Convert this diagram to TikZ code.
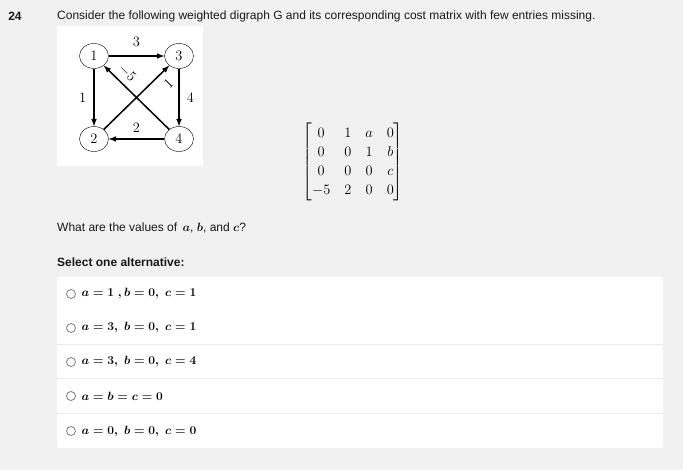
\documentclass[tikz,border=0pt]{standalone}
\usepackage{amsmath}
\usepackage{fontspec}
\setmainfont{Liberation Sans}
\usetikzlibrary{shapes.geometric, arrows, positioning}
\definecolor{pagegray}{RGB}{241, 241, 241}
\definecolor{rulegray}{RGB}{236, 236, 236}
\definecolor{radiogray}{RGB}{125, 125, 125}
\definecolor{inkblack}{RGB}{25, 25, 25}
\tikzstyle{vertex} = [ellipse, draw, thin, minimum width=29pt, minimum height=25pt, inner sep=0pt, font=\fontsize{14}{16}\selectfont]
\tikzstyle{edge} = [line width=1.5pt,->,>=latex]
\tikzstyle{weight} = [font=\fontsize{14}{16}\selectfont, inner sep=2pt]
\tikzstyle{qtext} = [anchor=west, inner sep=0pt, text=inkblack, font=\fontsize{12}{14}\selectfont]
\tikzstyle{radio} = [circle, draw=radiogray, line width=0.8pt, minimum size=9pt, inner sep=0pt]
\tikzstyle{choice} = [anchor=west, inner sep=0pt, font=\fontsize{13}{15}\selectfont\boldmath]

\begin{document}
\begin{tikzpicture}[x=1pt,y=-1pt]
% Page and panels
\fill[pagegray] (0,0) rectangle (683,470);
\useasboundingbox (0,0) rectangle (683,470);
\fill[white] (57,26) rectangle (203,166);
\fill[white, rounded corners=2pt] (57,277) rectangle (663,448);
\foreach \y in {345,379,413}
  \draw[rulegray, line width=1pt] (57,\y) -- (663,\y);

% Question text
\node[qtext, anchor=center, font=\fontsize{12}{14}\selectfont\bfseries] (num) at (15,16) {24};
\node[qtext] (stem) at (57,16) {Consider the following weighted digraph G and its corresponding cost matrix with few entries missing.};

% Digraph G
\node[vertex] (v1) at (94,56) {$1$};
\node[vertex] (v3) at (179,56) {$3$};
\node[vertex] (v2) at (94,139) {$2$};
\node[vertex] (v4) at (179,139) {$4$};

\draw[edge] (v1) -- node[weight, above=7pt] {$3$} (v3);
\draw[edge] (v1) -- node[weight, left=5pt] {$1$} (v2);
\draw[edge] (v3) -- node[weight, right=5pt] {$4$} (v4);
\draw[edge] (v4) -- node[weight, above=4pt] {$2$} (v2);
\draw[edge] (v4) -- node[weight, pos=0.76, sloped, above=3pt] {$-5$} (v1);
\draw[edge] (v2) -- node[weight, pos=0.86, sloped, below=5pt] {$1$} (v3);

% Cost matrix
\node[font=\fontsize{14}{16}\selectfont] (cost) at (353,162) {%
  \renewcommand{\arraystretch}{1.2}\setlength{\arraycolsep}{7pt}%
  $\begin{bmatrix}
    0 & 1 & a & 0\\
    0 & 0 & 1 & b\\
    0 & 0 & 0 & c\\
    -5 & 2 & 0 & 0
  \end{bmatrix}$};

% Question
\node[qtext] (ask) at (57,228) {What are the values of \,$\boldsymbol{a}$, $\boldsymbol{b}$, and $\boldsymbol{c}$?};
\node[qtext, font=\fontsize{12}{14}\selectfont\bfseries] (pick) at (57,262) {Select one alternative:};

% Alternatives
\node[radio] (r1) at (71,294) {};
\node[radio] (r2) at (71,328) {};
\node[radio] (r3) at (71,362) {};
\node[radio] (r4) at (71,396) {};
\node[radio] (r5) at (71,431) {};
\node[choice, right=5.5pt of r1] (c1) {$a=1\;,b=0,\;c=1$};
\node[choice, right=5.5pt of r2] (c2) {$a=3,\;b=0,\;c=1$};
\node[choice, right=5.5pt of r3] (c3) {$a=3,\;b=0,\;c=4$};
\node[choice, right=5.5pt of r4] (c4) {$a=b=c=0$};
\node[choice, right=5.5pt of r5] (c5) {$a=0,\;b=0,\;c=0$};
\end{tikzpicture}
\end{document}
